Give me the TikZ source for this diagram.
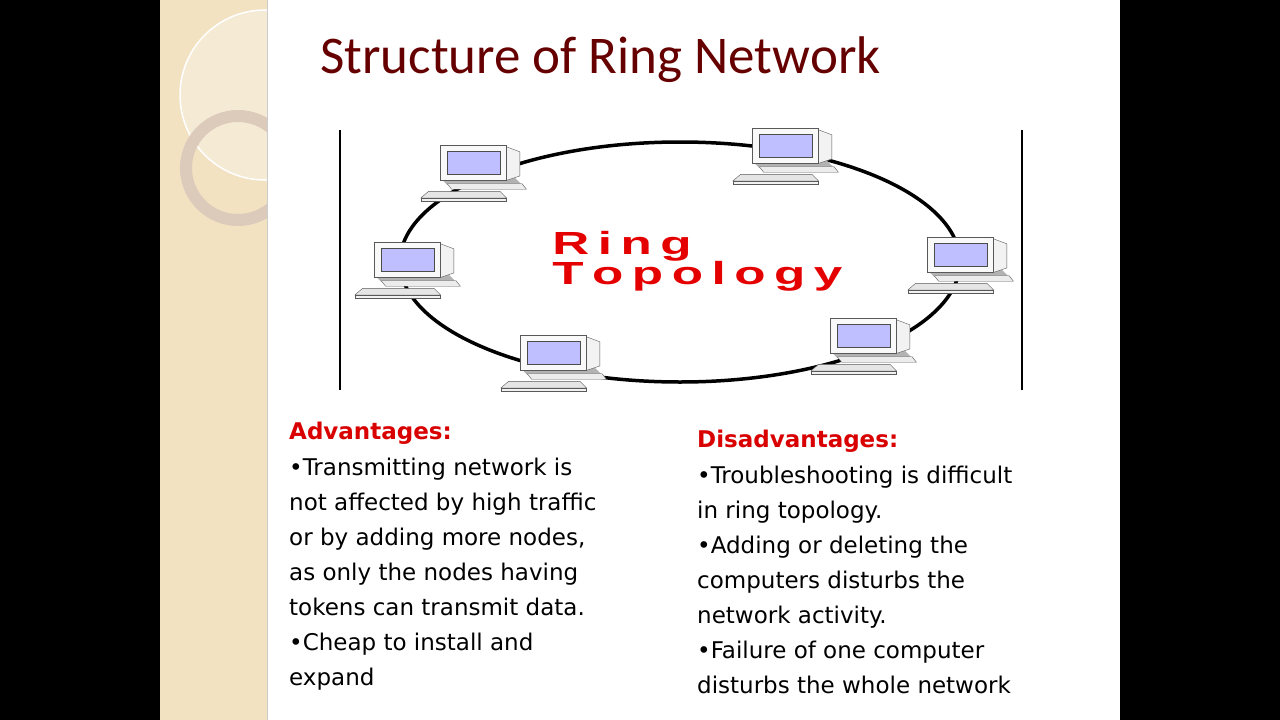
\documentclass[tikz,border=0pt]{standalone}
\usepackage{fontspec}
\setmainfont{DejaVu Sans}
\newfontfamily\titlefont{Carlito}
\newfontfamily\ringfont{Liberation Sans}
\definecolor{panel}{HTML}{F2E2C2}
\begin{document}
\begin{tikzpicture}[x=1pt,y=-1pt,
  body/.style={anchor=base west,font=\fontsize{23}{35}\selectfont,inner sep=0pt,align=left},
  head/.style={anchor=base west,font=\fontsize{23}{30}\selectfont\bfseries,text=red!85!black,inner sep=0pt},
  pc/.pic={
    \fill[gray!60] (-34,12) -- (34,12) -- (40,18) -- (-28,18) -- cycle;
    \draw[gray!70!black,fill=gray!15] (-28,17) -- (40,17) -- (44,22) -- (-24,22)-- cycle;
    \draw[gray!70!black,fill=gray!20] (-45,24) -- (20,24) -- (26,30) -- (-52,30) -- cycle;
    \draw[gray!70!black,fill=gray!10] (-52,30) -- (26,30) -- (26,33) -- (-52,33) -- cycle;
    \draw[gray!70!black,fill=gray!10] (22,-18) -- (38,-12) -- (38,10) -- (26,14) -- cycle;
    \draw[gray!70!black,fill=gray!5] (-34,-18) rectangle (26,14);
    \draw[gray!60!black,fill=blue!25!white] (-28,-13) rectangle (20,8);
  }]
\useasboundingbox (0,0) rectangle (1280,720);
\fill[black] (0,0) rectangle (1280,720);
\fill[white] (160,0) rectangle (1120,720);
\fill[panel] (160,0) rectangle (267,720);
\begin{scope}
\clip (160,0) rectangle (267,720);
\fill[white,opacity=0.3] (265,95) circle (85);
\draw[white,line width=1.5pt] (265,95) circle (85);
\draw[brown!30!white!85!gray,line width=12pt] (238,168) circle (52);
\end{scope}
\draw[gray!40,line width=1pt] (267,0) -- (267,720);
\node[anchor=base west,inner sep=0pt,font=\titlefont\fontsize{53}{56}\selectfont,text=red!40!black] (title) at (320,73) {Structure of Ring Network};
\draw[line width=2pt] (340,130) -- (340,390);
\draw[line width=2pt] (1022,130) -- (1022,390);
\draw[line width=3.5pt] (680,262) ellipse (280 and 120);
\node[anchor=west,inner sep=0pt,text=red!90!black,font=\ringfont\fontsize{32}{30}\selectfont\bfseries,xscale=1.6] (ring) at (552,246) {R\,i\,n\,g};
\node[anchor=west,inner sep=0pt,text=red!90!black,font=\ringfont\fontsize{32}{30}\selectfont\bfseries,xscale=1.6] (topo) at (552,276) {T\,o\,p\,o\,l\,o\,g\,y};
\foreach \p/\n in {{(478,165)}/a,{(790,148)}/b,{(965,257)}/c,{(868,338)}/d,{(558,355)}/e,{(412,262)}/f}
  \pic[scale=1.1] (\n) at \p {pc};
\node[head] (adv) at (289,439) {Advantages:};
\node[body] (advt) at (289,685) {•Transmitting network is\\not affected by high traffic\\or by adding more nodes,\\as only the nodes having\\tokens can transmit data.\\•Cheap to install and\\expand};
\node[head] (dis) at (697,447) {Disadvantages:};
\node[body] (dist) at (697,693) {•Troubleshooting is difficult\\in ring topology.\\•Adding or deleting the\\computers disturbs the\\network activity.\\•Failure of one computer\\disturbs the whole network};
\end{tikzpicture}
\end{document}
